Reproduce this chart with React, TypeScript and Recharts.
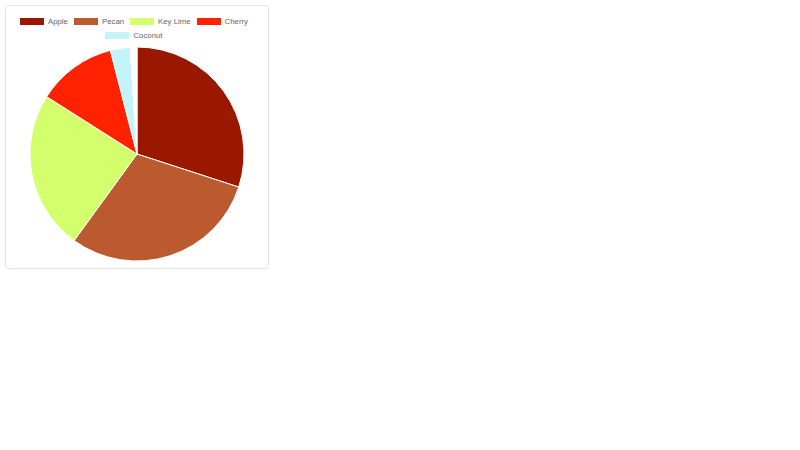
import React from "react";
import { PieChart, Pie, Cell, Legend } from "recharts";

const categories = ["Apple", "Pecan", "Key Lime", "Cherry", "Coconut", ""];
const values = [30, 30, 24, 12, 3, 1];
const colors = ["#9b1800", "#bb5a2f", "#d4ff6c", "#ff2200", "#c4f3fa", "#ffffff"];
const legendCount = 5;

const data = categories.map((name, i) => ({ name, value: values[i] }));

const renderLegend = () => (
  <div
    style={{
      display: "flex",
      flexWrap: "wrap",
      justifyContent: "center",
      width: 250,
      margin: "0 auto",
      rowGap: 4,
      fontFamily: "'Liberation Sans', Arial, Helvetica, sans-serif",
      fontSize: 7.8,
      color: "#666",
    }}
  >
    {categories.slice(0, legendCount).map((c, i) => (
      <div key={c} style={{ display: "flex", alignItems: "center", margin: "0 3px", height: 10 }}>
        <span
          style={{
            display: "inline-block",
            width: 24,
            height: 7,
            background: colors[i],
            marginRight: 4,
          }}
        />
        <span style={{ color: "#666" }}>{c}</span>
      </div>
    ))}
  </div>
);

export default function App() {
  return (
    <div
      style={{
        position: "absolute",
        left: 5,
        top: 5,
        width: 262,
        height: 262,
        border: "1px solid #e2e2e2",
        borderRadius: 4,
        background: "#fff",
      }}
    >
      <PieChart width={262} height={262}>
        <Legend
          verticalAlign="top"
          content={renderLegend}
          wrapperStyle={{ top: 10, left: -3, width: 262 }}
        />
        <Pie
          data={data}
          dataKey="value"
          nameKey="name"
          cx={126}
          cy={119}
          outerRadius={107}
          startAngle={90}
          endAngle={-270}
          stroke="#fff"
          strokeWidth={1}
          isAnimationActive={false}
        >
          {data.map((d, i) => (
            <Cell key={i} fill={colors[i]} />
          ))}
        </Pie>
      </PieChart>
    </div>
  );
}
